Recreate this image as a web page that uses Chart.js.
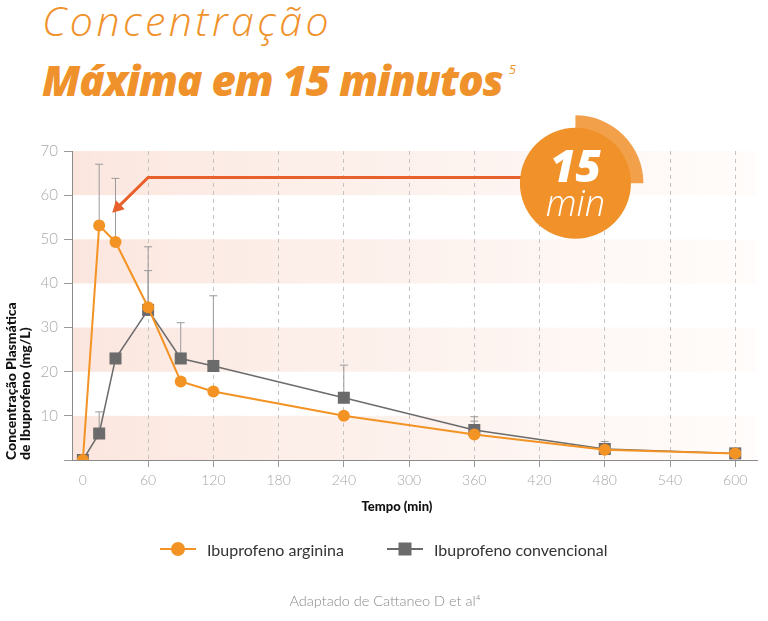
<!DOCTYPE html>
<html lang="pt">
<head>
<meta charset="utf-8">
<title>Concentração Máxima em 15 minutos</title>
<script src="https://cdn.jsdelivr.net/npm/chart.js@4.4.1/dist/chart.umd.min.js"></script>
<style>
  body {
    margin: 0;
    width: 768px;
    height: 621px;
    position: relative;
    overflow: hidden;
    background: #ffffff;
    font-family: "Lato", "DejaVu Sans", sans-serif;
  }
  #grafico {
    position: absolute;
    left: 0;
    top: 0;
  }
  .titulo {
    position: absolute;
    left: 42px;
    color: #f0922b;
    font-family: "Open Sans", sans-serif;
    font-style: italic;
    white-space: nowrap;
  }
  #linha1 {
    top: 0px;
    font-size: 41px;
    line-height: 41px;
    font-weight: 300;
    letter-spacing: 3.5px;
  }
  #linha2 {
    top: 48px;
    font-size: 42px;
    line-height: 42px;
    font-weight: 800;
    letter-spacing: -1px;
  }
  #linha2 span {
    font-size: 13px;
    font-weight: 400;
    vertical-align: 22px;
    margin-left: 6px;
  }
  .item {
    position: absolute;
    top: 540px;
    height: 18px;
    display: flex;
    align-items: center;
    font-size: 16px;
    color: #333333;
    white-space: nowrap;
  }
  .traco {
    position: relative;
    width: 36px;
    margin-right: 11px;
  }
  .traco b {
    position: absolute;
    left: 50%;
    top: 50%;
    transform: translate(-50%, -50%);
  }
  #fonte {
    position: absolute;
    left: 0;
    top: 592px;
    width: 770px;
    text-align: center;
    font-size: 14.5px;
    font-weight: 300;
    color: #8a8a8a;
  }
</style>
</head>
<body>

<div class="titulo" id="linha1">Concentração</div>
<div class="titulo" id="linha2">Máxima em 15 minutos<span>5</span></div>

<canvas id="grafico" width="768" height="621"></canvas>

<div class="item" style="left:160px">
  <span class="traco" style="height:2px;background:#f39324">
    <b style="width:14px;height:14px;border-radius:50%;background:#f39324"></b>
  </span>
  Ibuprofeno arginina
</div>
<div class="item" style="left:387px">
  <span class="traco" style="height:1.5px;background:#6b6b6b">
    <b style="width:13px;height:13px;background:#6b6b6b"></b>
  </span>
  Ibuprofeno convencional
</div>

<div id="fonte">Adaptado de Cattaneo D et al⁴</div>

<script>
// ==========================
// DADOS
// ==========================

const tempos =
[0, 15, 30, 60, 90, 120, 240, 360, 480, 600];

const arginina =
[0, 53.1, 49.4, 34.6, 17.8, 15.5, 10.0, 5.8, 2.3, 1.5];

const convencional =
[0, 6.0, 23.0, 34.0, 23.0, 21.3, 14.1, 6.8, 2.5, 1.5];

// limite superior do desvio (null = sem barra)
const argininaSup =
[null, 67.0, 63.8, 48.3, null, null, null, 9.8, null, null];

const convencionalSup =
[null, 10.9, null, 42.9, 31.1, 37.2, 21.5, 8.8, 4.2, null];

const ticksX =
[0, 60, 120, 180, 240, 300, 360, 420, 480, 540, 600];

const ticksY =
[0, 10, 20, 30, 40, 50, 60, 70];

// faixas rosadas do fundo
const faixas =
[[0, 10], [20, 30], [40, 50], [60, 70]];

// seta: do selo até 60 min, depois até o pico
const seta =
[[450, 64], [60, 64], [27, 56]];

// ==========================
// PLUGINS
// ==========================

const fundoFaixas = {
    id: "fundoFaixas",
    beforeDraw(chart) {
        const { ctx, chartArea: a, scales: { y } } = chart;
        const grad = ctx.createLinearGradient(a.left, 0, a.right, 0);
        grad.addColorStop(0, "rgba(250,224,214,0.8)");
        grad.addColorStop(0.6, "rgba(252,236,230,0.6)");
        grad.addColorStop(1, "rgba(255,246,242,0.35)");
        ctx.save();
        ctx.fillStyle = grad;
        faixas.forEach(([de, ate]) => {
            const y1 = y.getPixelForValue(ate);
            const y2 = y.getPixelForValue(de);
            ctx.fillRect(a.left, y1, a.right - a.left, y2 - y1);
        });
        ctx.restore();
    }
};

const barrasErro = {
    id: "barrasErro",
    beforeDatasetsDraw(chart) {
        const { ctx, scales: { x, y } } = chart;
        ctx.save();
        ctx.strokeStyle = "#9a9a9a";
        ctx.lineWidth = 1;
        [[arginina, argininaSup], [convencional, convencionalSup]]
        .forEach(([valores, sup]) => {
            sup.forEach((s, i) => {
                if (s === null) return;
                const px = x.getPixelForValue(tempos[i]);
                const y0 = y.getPixelForValue(valores[i]);
                const y1 = y.getPixelForValue(s);
                ctx.beginPath();
                ctx.moveTo(px, y0);
                ctx.lineTo(px, y1);
                ctx.moveTo(px - 4, y1);
                ctx.lineTo(px + 4, y1);
                ctx.stroke();
            });
        });
        ctx.restore();
    }
};

const selo = {
    id: "selo",
    afterDatasetsDraw(chart) {
        const { ctx, scales: { x, y } } = chart;
        const pts = seta.map(p => [
            x.getPixelForValue(p[0]),
            y.getPixelForValue(p[1])
        ]);

        ctx.save();

        // seta
        ctx.strokeStyle = "#e8612c";
        ctx.fillStyle = "#e8612c";
        ctx.lineWidth = 3;
        ctx.lineJoin = "miter";
        ctx.beginPath();
        ctx.moveTo(pts[0][0], pts[0][1]);
        ctx.lineTo(pts[1][0], pts[1][1]);
        const ang = Math.atan2(
            pts[2][1] - pts[1][1],
            pts[2][0] - pts[1][0]
        );
        const fim = [
            pts[2][0] - Math.cos(ang) * 8,
            pts[2][1] - Math.sin(ang) * 8
        ];
        ctx.lineTo(fim[0], fim[1]);
        ctx.stroke();

        ctx.beginPath();
        ctx.moveTo(pts[2][0], pts[2][1]);
        ctx.lineTo(
            pts[2][0] - Math.cos(ang - 0.5) * 13,
            pts[2][1] - Math.sin(ang - 0.5) * 13
        );
        ctx.lineTo(
            pts[2][0] - Math.cos(ang + 0.5) * 13,
            pts[2][1] - Math.sin(ang + 0.5) * 13
        );
        ctx.closePath();
        ctx.fill();

        // selo "15 min"
        const cx = x.getPixelForValue(453);
        const cy = y.getPixelForValue(62.7);

        ctx.fillStyle = "#f3a04a";
        ctx.beginPath();
        ctx.moveTo(cx, cy);
        ctx.arc(cx, cy, 68, -Math.PI / 2, 0);
        ctx.closePath();
        ctx.fill();

        ctx.fillStyle = "#f0912a";
        ctx.beginPath();
        ctx.arc(cx, cy, 55.5, 0, Math.PI * 2);
        ctx.fill();

        ctx.fillStyle = "#ffffff";
        ctx.textAlign = "center";
        ctx.textBaseline = "alphabetic";
        ctx.font = "italic 800 44px 'Open Sans'";
        ctx.fillText("15", cx, cy - 1);
        ctx.font = "italic 300 36px 'Open Sans'";
        ctx.fillText("min", cx, cy + 33);

        ctx.restore();
    }
};

const tituloX = {
    id: "tituloX",
    afterDraw(chart) {
        const { ctx, chartArea: a } = chart;
        ctx.save();
        ctx.fillStyle = "#111111";
        ctx.font = "900 13px Lato";
        ctx.textAlign = "center";
        ctx.textBaseline = "middle";
        ctx.fillText("Tempo (min)", a.left + 325, 507);
        ctx.restore();
    }
};

// ==========================
// GRÁFICO
// ==========================

new Chart(document.getElementById("grafico"), {
    type: "line",
    data: {
        datasets: [
            {
                label: "Ibuprofeno arginina",
                data: tempos.map((t, i) => ({ x: t, y: arginina[i] })),
                borderColor: "#f39324",
                backgroundColor: "#f39324",
                borderWidth: 2,
                pointStyle: "circle",
                pointRadius: 6,
                pointBorderWidth: 0,
                order: 1
            },
            {
                label: "Ibuprofeno convencional",
                data: tempos.map((t, i) => ({ x: t, y: convencional[i] })),
                borderColor: "#6b6b6b",
                backgroundColor: "#6b6b6b",
                borderWidth: 1.5,
                pointStyle: "rect",
                pointRadius: 8.5,
                pointBorderWidth: 0,
                order: 2
            }
        ]
    },
    options: {
        responsive: false,
        animation: false,
        layout: {
            padding: { left: 0, top: 151, right: 11, bottom: 101 }
        },
        plugins: {
            legend: { display: false },
            tooltip: { enabled: false }
        },
        scales: {
            x: {
                type: "linear",
                min: -10,
                max: 620,
                afterBuildTicks: s => {
                    s.ticks = ticksX.map(v => ({ value: v }));
                },
                afterFit: s => { s.height = 60; },
                grid: {
                    color: c => c.tick && c.tick.value === 0
                        ? "rgba(0,0,0,0)" : "#c4c4c4",
                    tickColor: c => c.tick && c.tick.value === 0
                        ? "rgba(0,0,0,0)" : "#9a9a9a",
                    tickLength: 7,
                    lineWidth: 1
                },
                border: {
                    color: "#8a8a8a",
                    dash: [4, 4]
                },
                ticks: {
                    color: "#a8a8a8",
                    padding: 5,
                    maxRotation: 0,
                    font: { family: "Lato", size: 14, weight: 300 }
                }
            },
            y: {
                min: 0,
                max: 70,
                afterBuildTicks: s => {
                    s.ticks = ticksY.map(v => ({ value: v }));
                },
                afterFit: s => { s.width = 72; },
                grid: {
                    drawOnChartArea: false,
                    tickColor: "#9a9a9a",
                    tickLength: 8
                },
                border: { color: "#8a8a8a" },
                ticks: {
                    color: "#a8a8a8",
                    padding: 6,
                    font: { family: "Lato", size: 15, weight: 300 },
                    callback: v => v === 0 ? "" : v
                },
                title: {
                    display: true,
                    text: ["Concentração Plasmática", "de Ibuprofeno (mg/L)"],
                    align: "start",
                    color: "#111111",
                    padding: { top: 4, bottom: 0 },
                    font: { family: "Lato", size: 14, weight: 900, lineHeight: 1.0 }
                }
            }
        }
    },
    plugins: [fundoFaixas, barrasErro, selo, tituloX]
});
</script>
</body>
</html>
